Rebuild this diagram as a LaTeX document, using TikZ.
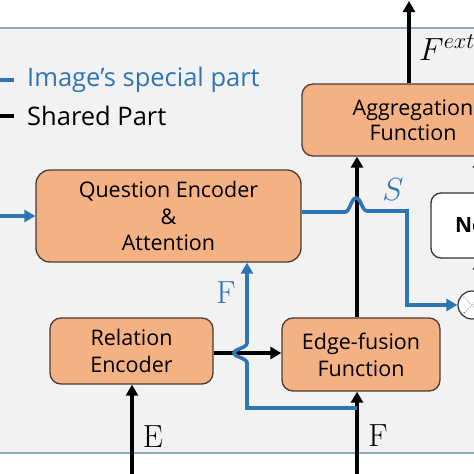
\RequirePackage{fix-cm}
\documentclass[tikz,border=0pt]{standalone}
\usepackage{fontspec}
\setsansfont{Open Sans}
\usetikzlibrary{arrows.meta}
\definecolor{bgc}{HTML}{F2F2F2}
\definecolor{framec}{HTML}{8FA7C4}
\definecolor{boxc}{HTML}{F4B183}
\definecolor{boxd}{HTML}{4A3C34}
\definecolor{bluec}{HTML}{2E75B6}
\tikzset{
  box/.style={draw=boxd, line width=1.3pt, fill=boxc, rounded corners=11pt, align=center,
    font=\sffamily\fontsize{21.5}{27}\selectfont, inner sep=0pt},
  nebox/.style={draw=black!80, line width=1.3pt, fill=white, rounded corners=10pt,
    font=\sffamily\bfseries\fontsize{21}{27}\selectfont, inner sep=0pt},
  blk/.style={line width=3.6pt, draw=black, -{Triangle[length=11pt,width=12pt]}},
  blu/.style={line width=3.6pt, draw=bluec, -{Triangle[length=11pt,width=12pt]}},
  lbl/.style={font=\fontsize{32}{32}\selectfont, inner sep=0pt},
  leg/.style={font=\sffamily\fontsize{25.5}{25.5}\selectfont, inner sep=0pt, anchor=west}
}
\begin{document}
\begin{tikzpicture}[x=1pt,y=-1pt]
\clip (0,0) rectangle (474,474);
\fill[white] (0,0) rectangle (474,474);
\fill[bgc] (0,28) rectangle (474,453);
\draw[framec, line width=1.2pt] (0,28) -- (474,28);
\draw[framec, line width=1.2pt] (0,453) -- (474,453);

% legend
\coordinate (lb1) at (0,80);
\coordinate (lb2) at (14,80);
\draw[bluec, line width=3.6pt] (lb1) -- (lb2);
\node[leg, text=bluec] (legA) at (27,80) {Image’s special part};
\coordinate (lk1) at (0,116);
\coordinate (lk2) at (14,116);
\draw[black, line width=3.6pt] (lk1) -- (lk2);
\node[leg] (legB) at (27,116) {Shared Part};

% boxes
\node[box, minimum width=222pt, minimum height=72pt, font=\sffamily\fontsize{21.5}{25}\selectfont] (AG) at (413,120) {Aggregation\\Function};
\node[box, minimum width=265pt, minimum height=92pt, rounded corners=14pt, font=\sffamily\fontsize{21.5}{26.5}\selectfont] (QE) at (168.5,216) {Question Encoder\\\&\\Attention};
\node[box, minimum width=163pt, minimum height=66pt] (RE) at (131.5,351) {Relation\\Encoder};
\node[box, minimum width=158pt, minimum height=73pt] (EF) at (361,354.5) {Edge-fusion\\Function};
\node[nebox, minimum width=150pt, minimum height=65pt, text width=102pt, inner xsep=24pt, align=left] (NE) at (506,225.5) {Ne};
\node[circle, draw=black!80, line width=1.2pt, fill=white, minimum size=28pt, inner sep=0pt] (MUL) at (472,305) {};
\draw[black!70, line width=0.8pt, dotted] (MUL.north west) -- (MUL.south east) (MUL.north east) -- (MUL.south west);

% output arrow
\coordinate (top) at (409,1);
\draw[blk] (AG.north -| top) -- (top);
\node[lbl, anchor=base west] (Fext) at (419,60) {$F^{ext}$};

% right column arrows (mostly off-picture)
\coordinate (rc) at (479,0);
\draw[blk] (MUL.north -| rc) -- (NE.south -| rc);
\draw[blk] (NE.north -| rc) -- (AG.south -| rc);

% inputs
\coordinate (inE) at (132,474);
\coordinate (inF) at (357,474);
\draw[blk] (inE) -- (inE |- RE.south);
\draw[blk] (inF) -- (inF |- EF.south);
\node[lbl] (labE) at (153,437) {E};
\node[lbl] (labF) at (378,436) {F};

% edge-fusion to aggregation
\draw[blk] (inF |- EF.north) -- (inF |- AG.south);

% relation encoder to edge-fusion
\coordinate (rey) at (0,353);
\draw[blk] (RE.east |- rey) -- (EF.west |- rey);

% blue F path
\coordinate (bq) at (247,408);
\draw[blu] (inF |- bq) -- (bq) -- (247,363) .. controls (247,358) and (234,357) .. (234,353)
  .. controls (234,349) and (247,348) .. (247,343) -- (bq |- QE.south);
\node[lbl, text=bluec] (labF2) at (226,293) {F};

% question input
\coordinate (qin) at (0,216);
\draw[blu] (qin) -- (QE.west);

% S path
\coordinate (sy) at (0,212);
\draw[blu] (QE.east |- sy) -- (345,212) .. controls (350,212) and (351,198) .. (356,198)
  .. controls (361,198) and (362,211) .. (367,211) -- (407,211) -- (407,305) -- (MUL.west);
\node[lbl, text=bluec] (labS) at (393,190) {$S$};
\end{tikzpicture}
\end{document}
